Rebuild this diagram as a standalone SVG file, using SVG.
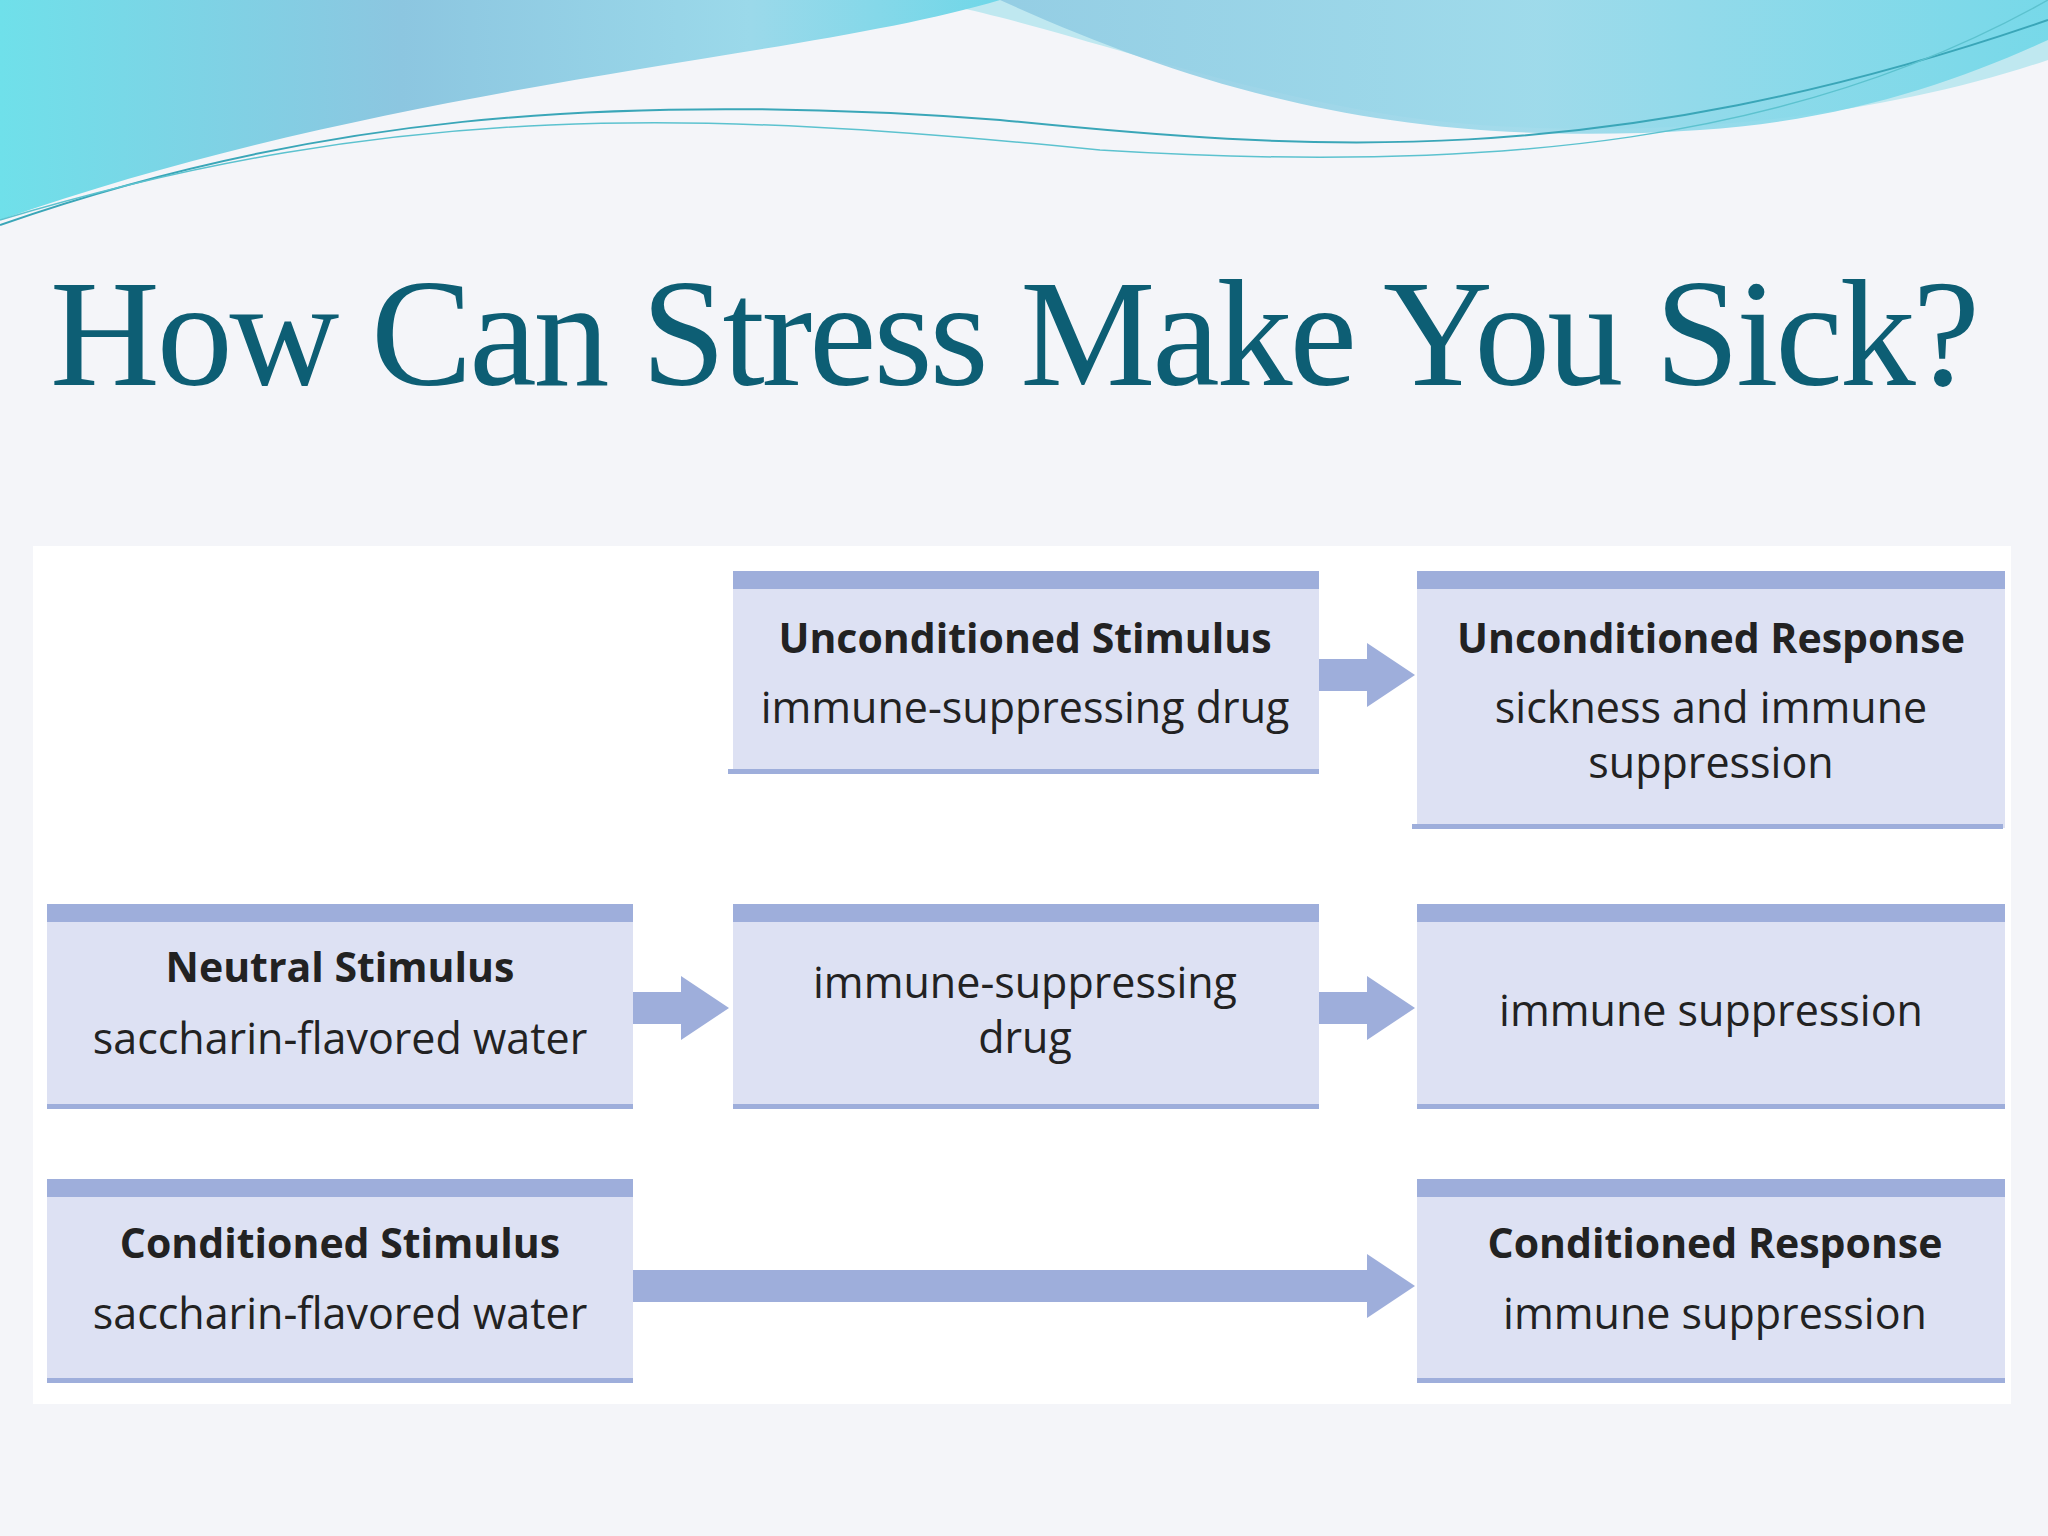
<svg xmlns="http://www.w3.org/2000/svg" width="2048" height="1536" viewBox="0 0 2048 1536">
<defs>
<linearGradient id="wave" x1="0" y1="0" x2="1" y2="0">
<stop offset="0" stop-color="#6fe0ea"/><stop offset="0.4" stop-color="#8cc6e0"/><stop offset="0.75" stop-color="#9bd9ea"/><stop offset="1" stop-color="#6fd7e8"/>
</linearGradient>
<style>
.box{fill:#dde1f3}
.bar{fill:#9eaedb}
.arr{fill:#9eaedb}
.b{font-family:"Open Sans","Noto Sans",sans-serif;font-weight:bold;font-size:41px;fill:#222;text-anchor:middle}
.r{font-family:"Open Sans","Noto Sans",sans-serif;font-size:43px;fill:#222;text-anchor:middle}
</style>
</defs>
<rect width="2048" height="1536" fill="#f4f5f9"/>
<path d="M0 0 H2048 V60 C1900 110 1700 140 1480 125 C1250 110 1000 0 900 0 Z" fill="#bfe8f0"/>
<path d="M0 0 H1000 C1200 90 1400 150 1700 130 C1850 120 1960 80 2048 40 V0 Z" fill="url(#wave)" opacity="0.9"/>
<path d="M0 0 H1000 C800 60 400 80 0 220 Z" fill="url(#wave)"/>
<path d="M0 225 C300 120 600 90 1000 120 C1300 150 1600 175 2048 20" fill="none" stroke="#3aa6b8" stroke-width="2"/>
<path d="M0 220 C400 100 700 110 1100 150 C1500 175 1800 140 2048 0" fill="none" stroke="#5cc2cf" stroke-width="1.5"/>
<text x="50" y="385" font-family="Liberation Serif,serif" font-size="152" fill="#0d5e74" textLength="1930">How Can Stress Make You Sick?</text>
<rect x="33" y="546" width="1978" height="858" fill="#ffffff"/>
<g id="us"><rect class="box" x="733" y="571" width="586" height="202"/><rect class="bar" x="733" y="571" width="586" height="18"/><rect class="bar" x="728" y="769" width="591" height="5"/>
<text class="b" x="1025" y="653">Unconditioned Stimulus</text><text class="r" x="1025" y="723">immune-suppressing drug</text></g>
<g id="ur"><rect class="box" x="1417" y="571" width="588" height="257"/><rect class="bar" x="1417" y="571" width="588" height="18"/><rect class="bar" x="1412" y="824" width="591" height="5"/>
<text class="b" x="1711" y="653">Unconditioned Response</text><text class="r" x="1711" y="723">sickness and immune</text><text class="r" x="1711" y="778">suppression</text></g>
<g id="ns"><rect class="box" x="47" y="904" width="586" height="204"/><rect class="bar" x="47" y="904" width="586" height="18"/><rect class="bar" x="47" y="1104" width="586" height="5"/>
<text class="b" x="340" y="982">Neutral Stimulus</text><text class="r" x="340" y="1054">saccharin-flavored water</text></g>
<g id="drug"><rect class="box" x="733" y="904" width="586" height="204"/><rect class="bar" x="733" y="904" width="586" height="18"/><rect class="bar" x="733" y="1104" width="586" height="5"/>
<text class="r" x="1025" y="998">immune-suppressing</text><text class="r" x="1025" y="1053">drug</text></g>
<g id="is"><rect class="box" x="1417" y="904" width="588" height="204"/><rect class="bar" x="1417" y="904" width="588" height="18"/><rect class="bar" x="1417" y="1104" width="588" height="5"/>
<text class="r" x="1711" y="1026">immune suppression</text></g>
<g id="cs"><rect class="box" x="47" y="1179" width="586" height="203"/><rect class="bar" x="47" y="1179" width="586" height="18"/><rect class="bar" x="47" y="1378" width="586" height="5"/>
<text class="b" x="340" y="1258">Conditioned Stimulus</text><text class="r" x="340" y="1329">saccharin-flavored water</text></g>
<g id="cr"><rect class="box" x="1417" y="1179" width="588" height="203"/><rect class="bar" x="1417" y="1179" width="588" height="18"/><rect class="bar" x="1417" y="1378" width="588" height="5"/>
<text class="b" x="1715" y="1258">Conditioned Response</text><text class="r" x="1715" y="1329">immune suppression</text></g>
<g id="connectors">
<path class="arr" d="M1319 659 H1367 V643 L1415 675 L1367 707 V691 H1319 Z"/>
<path class="arr" d="M633 992 H681 V976 L729 1008 L681 1040 V1024 H633 Z"/>
<path class="arr" d="M1319 992 H1367 V976 L1415 1008 L1367 1040 V1024 H1319 Z"/>
<path class="arr" d="M633 1270 H1367 V1254 L1415 1286 L1367 1318 V1302 H633 Z"/>
</g>
</svg>
